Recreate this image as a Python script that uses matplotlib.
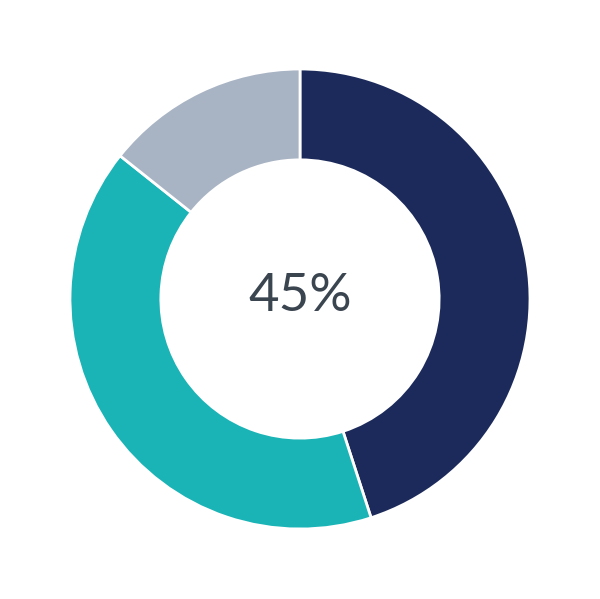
import matplotlib
matplotlib.use("Agg")
import matplotlib.pyplot as plt

labels = ["Segment A", "Segment B", "Segment C"]
values = [45, 40.7, 14.3]
colors = ["#1b2a5a", "#1ab3b6", "#a8b3c3"]
center_text = "45%"

fig = plt.figure(figsize=(6, 5.99), dpi=100)
ax = fig.add_axes([0, 0, 1, 1])

ax.pie(values, colors=colors, startangle=90, counterclock=False,
       radius=1.0,
       wedgeprops=dict(width=0.395, edgecolor="white", linewidth=2))

ax.text(0, 0.01, center_text, ha="center", va="center",
        fontsize=38, family="Lato", color="#3a4550")

ax.set_xlim(-300 / 230, 300 / 230)
ax.set_ylim(-300 / 230, 299 / 230)
ax.set_aspect("equal")
ax.axis("off")

fig.savefig("out.png", dpi=100, facecolor="white")
